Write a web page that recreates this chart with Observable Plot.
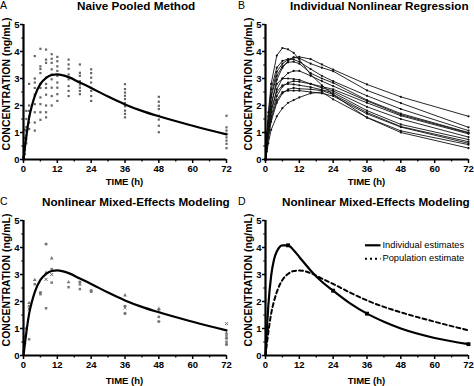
<!DOCTYPE html>
<html><head><meta charset="utf-8">
<script src="https://cdn.jsdelivr.net/npm/d3@7"></script>
<script src="https://cdn.jsdelivr.net/npm/@observablehq/plot@0.6"></script>
<style>
body{margin:0;background:#fff;}
#root{position:relative;width:474px;height:386px;overflow:hidden;font-family:"Liberation Sans",Arial,sans-serif;color:#000;}
.panel{position:absolute;width:232px;height:190px;}
.title{position:absolute;font-weight:bold;font-size:11.7px;white-space:nowrap;line-height:1;}
.letter{position:absolute;font-size:10.5px;line-height:1;}
.ylab{position:absolute;font-weight:bold;font-size:10.5px;white-space:nowrap;transform:translate(-50%,-50%) rotate(-90deg);line-height:1;}
.xlab{position:absolute;font-weight:bold;font-size:9.5px;white-space:nowrap;transform:translate(-50%,-50%);line-height:1;}
.leg{position:absolute;font-size:9.3px;white-space:nowrap;line-height:1;}
</style></head>
<body><div id="root"></div>
<script>
// ---------- DATA ----------
const sampleTimes = [0, 0.5, 1, 2, 4, 6, 8, 10, 12, 16, 20, 24, 36, 48, 72];
const xTicks = [0, 12, 24, 36, 48, 60, 72];
const xMinorTicks = [6, 18, 30, 42, 54, 66];
const yTicks = [0, 1, 2, 3, 4, 5];
const yMinorTicks = [0.5, 1.5, 2.5, 3.5, 4.5];
const panelTitles = ["Naive Pooled Method", "Individual Nonlinear Regression", "Nonlinear Mixed-Effects Modeling", "Nonlinear Mixed-Effects Modeling"];
const panelLetters = ["A", "B", "C", "D"];
const xLabel = "TIME (h)";
const yLabel = "CONCENTRATION (ng/mL)";
const legendLabels = ["Individual estimates", "Population estimate"];

// Panel A: pooled observations, one list per sample time
const pooledConc = [
  [0, 0.05, 0.1],
  [0.2, 0.35, 0.45, 0.6, 0.8, 1.1],
  [0.6, 0.75, 0.9, 1.05, 1.2, 1.5, 1.8],
  [1.13, 1.37, 1.6, 1.8, 2.0, 2.8],
  [1.07, 1.37, 1.75, 2.05, 2.4, 2.65, 2.85, 3.0, 3.83],
  [1.47, 1.75, 2.05, 2.3, 2.65, 2.8, 3.2, 3.35, 3.45, 4.1],
  [1.56, 1.75, 2.0, 2.4, 2.65, 2.8, 3.03, 3.58, 3.7, 4.07],
  [2.0, 2.35, 2.66, 2.97, 3.15, 3.34, 3.58, 3.73, 3.9],
  [2.17, 2.42, 2.66, 2.85, 3.1, 3.28, 3.45, 3.64, 3.8],
  [2.35, 2.54, 2.72, 2.97, 3.15, 3.36, 3.52, 3.7],
  [2.42, 2.54, 2.66, 2.78, 2.9, 3.1, 3.21, 3.52],
  [2.17, 2.35, 2.54, 2.66, 2.85, 3.03, 3.2, 3.34],
  [1.56, 1.69, 1.81, 1.97, 2.09, 2.24, 2.36, 2.48, 2.61, 2.79],
  [1.01, 1.25, 1.48, 1.62, 1.87, 1.99, 2.14, 2.32],
  [0.42, 0.58, 0.7, 0.82, 0.95, 1.07, 1.19, 1.62]
];

// Population estimate curve (read at these times)
const popTimes = [0, 0.5, 1, 2, 3, 4, 6, 8, 10, 12, 16, 20, 24, 30, 36, 42, 48, 60, 72];
const popConc  = [0, 0.45, 0.85, 1.55, 2.0, 2.35, 2.8, 3.02, 3.13, 3.15, 3.05, 2.85, 2.65, 2.33, 2.04, 1.8, 1.6, 1.25, 0.93];

// Panel B: individual fitted profiles (values at sampleTimes)
const subj1  = [0, 1.0, 1.75, 2.8, 3.85, 4.13, 4.08, 3.95, 3.7, 3.15, 2.75, 2.4, 1.55, 1.0, 0.42];
const subj2  = [0, 0.6, 1.1, 1.95, 2.95, 3.4, 3.65, 3.78, 3.8, 3.72, 3.52, 3.33, 2.78, 2.32, 1.6];
const subj3  = [0, 0.8, 1.4, 2.4, 3.25, 3.55, 3.7, 3.78, 3.75, 3.55, 3.4, 3.27, 2.56, 2.09, 1.19];
const subj4  = [0, 0.9, 1.6, 2.6, 3.4, 3.65, 3.72, 3.7, 3.62, 3.35, 3.1, 2.9, 2.36, 1.87, 1.07];
const subj5  = [0, 0.75, 1.35, 2.3, 3.1, 3.45, 3.6, 3.62, 3.55, 3.2, 3.0, 2.84, 2.2, 1.7, 1.0];
const subj6  = [0, 0.55, 1.0, 1.75, 2.6, 3.0, 3.2, 3.28, 3.28, 3.1, 2.9, 2.72, 2.17, 1.66, 0.98];
const subj7  = [0, 0.7, 1.25, 2.1, 2.8, 3.0, 3.0, 2.98, 2.95, 2.8, 2.7, 2.6, 2.1, 1.62, 0.95];
const subj8  = [0, 0.5, 0.95, 1.6, 2.35, 2.7, 2.85, 2.9, 2.88, 2.8, 2.65, 2.54, 1.95, 1.5, 0.83];
const subj9  = [0, 0.6, 1.1, 1.85, 2.5, 2.75, 2.8, 2.78, 2.75, 2.68, 2.58, 2.48, 1.81, 1.3, 0.74];
const subj10 = [0, 0.4, 0.8, 1.4, 2.1, 2.45, 2.6, 2.65, 2.62, 2.6, 2.55, 2.41, 1.74, 1.22, 0.66];
const subj11 = [0, 0.45, 0.85, 1.5, 2.2, 2.5, 2.55, 2.55, 2.55, 2.5, 2.45, 2.35, 1.69, 1.2, 0.6];
const subj12 = [0, 0.3, 0.6, 1.1, 1.6, 1.9, 2.1, 2.2, 2.3, 2.45, 2.5, 2.23, 1.56, 1.06, 0.55];
const subjects = [subj1, subj2, subj3, subj4, subj5, subj6, subj7, subj8, subj9, subj10, subj11, subj12];

// Panel C: observations of a few subjects
const cTimes   = [0, 0.5, 0.5, 1, 2, 2, 2, 2, 4, 4, 6, 6, 8, 8, 8, 8, 10, 10, 10, 10, 16, 16, 20, 20, 20, 24, 24, 36, 36, 36, 36, 48, 48, 48, 48, 72, 72, 72, 72, 72, 72];
const cConc    = [0.15, 0.46, 0.71, 1.0, 1.95, 1.83, 1.72, 0.6, 2.8, 2.64, 2.33, 2.27, 4.13, 3.07, 2.82, 1.75, 3.6, 3.2, 3.0, 2.7, 2.72, 2.53, 2.72, 2.63, 2.46, 2.4, 2.36, 2.23, 1.83, 1.77, 1.56, 1.73, 1.67, 1.43, 1.26, 1.18, 0.83, 0.74, 0.64, 0.51, 0.41];
const cSymbols = ["square","triangle","square","circle","triangle","square","times","square","triangle","square","circle","square","circle","triangle","times","square","triangle","square","times","square","triangle","square","circle","triangle","square","circle","square","triangle","square","times","circle","triangle","times","square","circle","times","triangle","square","circle","square","circle"];

// Panel D: individual estimate curve and its observations
const indTimes = [0, 0.5, 1, 2, 3, 4, 6, 8, 10, 12, 16, 20, 24, 30, 36, 42, 48, 60, 72];
const indConc  = [0, 1.0, 1.85, 2.95, 3.55, 3.85, 4.08, 4.08, 3.9, 3.65, 3.15, 2.73, 2.4, 1.93, 1.55, 1.25, 1.0, 0.65, 0.42];
const dObsTimes = [0.5, 8, 24, 36, 72];
const dObsConc  = [1.0, 4.08, 2.4, 1.55, 0.42];

// ---------- BUILD ----------
const root = document.getElementById("root");
const FONT = '"Liberation Sans", Arial, sans-serif';
const panelPos = [{left:0, top:0}, {left:242, top:0}, {left:0, top:196}, {left:242, top:196}];
const titlePos = [{left:77, top:0}, {left:290, top:0}, {left:42, top:196}, {left:282, top:196}];
const letterPos = [{left:0, top:-0.5}, {left:238, top:-0.5}, {left:0, top:195.5}, {left:238, top:195.5}];
const xlabY = [182, 182, 185, 185];

function axes() {
  return [
    Plot.axisX({ticks: xTicks, tickSize: 4, tickPadding: 2, strokeWidth: 1.5, tickFormat: d => String(d), label: null}),
    Plot.axisX({ticks: xMinorTicks, tickSize: 2.5, strokeWidth: 1.3, tickFormat: () => "", label: null}),
    Plot.axisY({ticks: yTicks, tickSize: 3, tickPadding: 1, strokeWidth: 1.5, tickFormat: d => String(d), label: null}),
    Plot.axisY({ticks: yMinorTicks, tickSize: 1.8, strokeWidth: 1.2, tickFormat: () => "", label: null}),
    Plot.ruleY([0], {strokeWidth: 2.2}),
    Plot.ruleX([0], {strokeWidth: 2.2})
  ];
}
function makePlot(marks) {
  return Plot.plot({
    width: 232, height: 190,
    marginTop: 24, marginBottom: 31, marginLeft: 23, marginRight: 6,
    x: {domain: [0, 72]}, y: {domain: [0, 5]},
    style: {fontFamily: FONT, fontSize: "9.5px", fontWeight: "bold", color: "#000", background: "transparent", overflow: "visible"},
    marks: [...marks, ...axes()]
  });
}

const popLine = opts => Plot.line(popTimes, {x: d => d, y: (d, i) => popConc[i], curve: "monotone-x", stroke: "#000", ...opts});

// Panel A
const pooledRows = sampleTimes.flatMap((t, i) => pooledConc[i].map(c => ({t, c})));
const plotA = makePlot([
  Plot.dot(pooledRows, {x: "t", y: "c", symbol: "square", r: 1.25, fill: "#666"}),
  popLine({strokeWidth: 2.2})
]);

// Panel B
const subjRows = subjects.flatMap((s, k) => s.map((c, i) => ({k, t: sampleTimes[i], c})));
const plotB = makePlot([
  Plot.line(subjRows, {x: "t", y: "c", z: "k", stroke: "#111", strokeWidth: 0.9}),
  Plot.dot(subjRows, {x: "t", y: "c", r: 1.1, fill: "#111"})
]);

// Panel C
const cRows = cTimes.map((t, i) => ({t, c: cConc[i], s: cSymbols[i]}));
const plotC = makePlot([
  ...["circle", "triangle", "square"].map(sym =>
    Plot.dot(cRows.filter(d => d.s === sym), {x: "t", y: "c", symbol: sym, r: sym === "circle" ? 1.6 : 1.4, fill: "#777"})),
  Plot.dot(cRows.filter(d => d.s === "times"), {x: "t", y: "c", symbol: "times", r: 1.5, stroke: "#666", strokeWidth: 1}),
  popLine({strokeWidth: 2.2})
]);

// Panel D
const plotD = makePlot([
  popLine({strokeWidth: 2, strokeDasharray: "4,3"}),
  Plot.line(indTimes, {x: d => d, y: (d, i) => indConc[i], curve: "monotone-x", stroke: "#000", strokeWidth: 2.2}),
  Plot.dot(dObsTimes, {x: d => d, y: (d, i) => dObsConc[i], symbol: "square", r: 2.2, fill: "#000"})
]);

[plotA, plotB, plotC, plotD].forEach((svg, i) => {
  const p = document.createElement("div");
  p.className = "panel";
  p.style.left = panelPos[i].left + "px";
  p.style.top = panelPos[i].top + "px";
  p.appendChild(svg);
  root.appendChild(p);

  const t = document.createElement("div");
  t.className = "title";
  t.textContent = panelTitles[i];
  t.style.left = titlePos[i].left + "px";
  t.style.top = titlePos[i].top + "px";
  root.appendChild(t);

  const l = document.createElement("div");
  l.className = "letter";
  l.textContent = panelLetters[i];
  l.style.left = letterPos[i].left + "px";
  l.style.top = letterPos[i].top + "px";
  root.appendChild(l);

  const yl = document.createElement("div");
  yl.className = "ylab";
  yl.textContent = yLabel;
  yl.style.left = (panelPos[i].left + 5.5) + "px";
  yl.style.top = (panelPos[i].top + 84) + "px";
  root.appendChild(yl);

  const xl = document.createElement("div");
  xl.className = "xlab";
  xl.textContent = xLabel;
  xl.style.left = (panelPos[i].left + 124.5) + "px";
  xl.style.top = (panelPos[i].top + xlabY[i]) + "px";
  root.appendChild(xl);
});

// Legend for panel D
const ns = "http://www.w3.org/2000/svg";
const legSvg = document.createElementNS(ns, "svg");
legSvg.setAttribute("width", "20");
legSvg.setAttribute("height", "20");
legSvg.style.position = "absolute";
legSvg.style.left = "364px";
legSvg.style.top = "238px";
[[7.3, null, 2.2], [20.7, "2,3", 2]].forEach(([y, dash, w]) => {
  const ln = document.createElementNS(ns, "line");
  ln.setAttribute("x1", "1"); ln.setAttribute("x2", "16.5");
  ln.setAttribute("y1", y); ln.setAttribute("y2", y);
  ln.setAttribute("stroke", "#000"); ln.setAttribute("stroke-width", w);
  if (dash) ln.setAttribute("stroke-dasharray", dash);
  legSvg.appendChild(ln);
});
legSvg.setAttribute("height", "26");
root.appendChild(legSvg);
legendLabels.forEach((txt, i) => {
  const d = document.createElement("div");
  d.className = "leg";
  d.textContent = txt;
  d.style.left = "382.5px";
  d.style.top = (240.5 + i * 13.4) + "px";
  root.appendChild(d);
});
</script>
</body></html>
